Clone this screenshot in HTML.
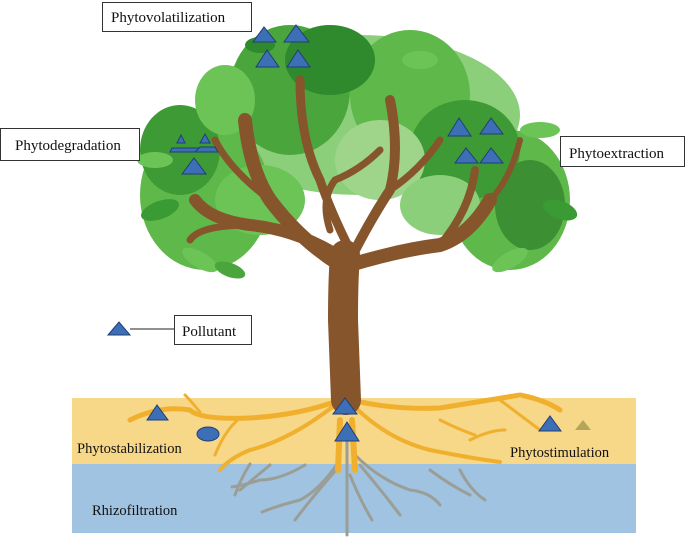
<!DOCTYPE html>
<html><head><meta charset="utf-8"><style>
html,body{margin:0;padding:0;background:#fff;width:685px;height:539px;overflow:hidden}
svg{display:block}
text{font-family:"Liberation Serif",serif;fill:#111}
</style></head><body>
<svg width="685" height="539" viewBox="0 0 685 539" xmlns="http://www.w3.org/2000/svg">
<rect x="72" y="398" width="564" height="66" fill="#f7d788"/>
<rect x="72" y="464" width="564" height="69" fill="#9fc3e0"/>
<g stroke="#9b9e96" stroke-width="3" fill="none" stroke-linecap="round">
<path d="M347 440 L347 535"/>
<path d="M340 460 Q320 490 300 500 Q280 505 262 512"/>
<path d="M336 470 Q310 500 295 520"/>
<path d="M350 475 Q360 500 372 520"/>
<path d="M355 455 Q380 480 410 490 Q430 492 440 505"/>
<path d="M360 465 Q385 495 400 515"/>
<path d="M305 465 Q280 480 260 480 Q245 485 232 487"/>
<path d="M270 465 Q258 475 240 490"/>
<path d="M250 464 Q240 480 235 495"/>
<path d="M430 470 Q450 485 470 495"/>
<path d="M460 470 Q470 490 485 500"/>
</g>
<g stroke="#f0b02e" stroke-width="5" fill="none" stroke-linecap="round">
<path d="M340 400 Q300 415 250 418 Q200 420 190 410 Q160 405 130 420"/>
<path d="M335 405 Q290 440 250 450 Q230 458 220 470" stroke-width="4"/>
<path d="M360 402 Q400 410 440 408 Q490 400 520 395 Q545 400 560 410"/>
<path d="M358 410 Q390 440 430 450 Q470 458 500 462" stroke-width="4"/>
<path d="M340 420 L338 470" stroke-width="6"/>
<path d="M352 420 L355 470" stroke-width="6"/>
<path d="M240 418 Q225 430 215 455" stroke-width="3"/>
<path d="M200 412 Q190 400 185 395" stroke-width="3"/>
<path d="M440 420 Q460 430 475 435" stroke-width="3"/>
<path d="M470 440 Q490 430 505 430" stroke-width="3"/>
<path d="M500 400 Q520 415 540 430" stroke-width="3"/>
</g>
<!-- canopy -->
<g>
<ellipse cx="360" cy="115" rx="160" ry="80" fill="#8ccf7a"/>
<ellipse cx="205" cy="195" rx="65" ry="75" fill="#5fb84a"/>
<ellipse cx="510" cy="200" rx="60" ry="70" fill="#5fb84a"/>
<ellipse cx="290" cy="90" rx="60" ry="65" fill="#4aa63c"/>
<ellipse cx="410" cy="95" rx="60" ry="65" fill="#5fb84a"/>
<ellipse cx="180" cy="150" rx="40" ry="45" fill="#3e9a35"/>
<ellipse cx="465" cy="150" rx="55" ry="50" fill="#3e9a35"/>
<ellipse cx="260" cy="200" rx="45" ry="35" fill="#6cc457"/>
<ellipse cx="530" cy="205" rx="35" ry="45" fill="#3d8f33"/>
<ellipse cx="330" cy="60" rx="45" ry="35" fill="#2e8a2c"/>
<ellipse cx="380" cy="160" rx="45" ry="40" fill="#9ed58b"/>
<ellipse cx="440" cy="205" rx="40" ry="30" fill="#8ccf7a"/>
<ellipse cx="225" cy="100" rx="30" ry="35" fill="#6cc457"/>
</g>
<g stroke="#86552c" fill="none" stroke-linecap="round">
<path d="M346 400 L343 320 Q343 280 345 255" stroke-width="30"/>
<path d="M340 265 Q300 240 270 200 Q250 170 245 120" stroke-width="14"/>
<path d="M350 265 Q400 250 440 245 Q470 235 490 200" stroke-width="14"/>
<path d="M345 260 Q300 230 250 225 Q210 220 195 200" stroke-width="12"/>
<path d="M350 260 Q370 220 390 190 Q400 150 390 100" stroke-width="10"/>
<path d="M350 250 Q330 210 320 180 Q300 140 300 80" stroke-width="9"/>
<path d="M330 230 Q320 200 335 180 Q360 170 380 150" stroke-width="7"/>
<path d="M440 245 Q470 210 475 170" stroke-width="8"/>
<path d="M250 225 Q200 225 190 240" stroke-width="7"/>
<path d="M270 200 Q230 170 215 140" stroke-width="7"/>
<path d="M390 190 Q420 170 440 140" stroke-width="7"/>
<path d="M490 200 Q510 180 520 140" stroke-width="6"/>
</g>
<g fill="#3a9a34">
<ellipse cx="160" cy="210" rx="20" ry="9" transform="rotate(-20 160 210)"/>
<ellipse cx="560" cy="210" rx="18" ry="9" transform="rotate(20 560 210)"/>
<ellipse cx="200" cy="260" rx="20" ry="8" transform="rotate(30 200 260)" fill="#6cc457"/>
<ellipse cx="510" cy="260" rx="20" ry="8" transform="rotate(-30 510 260)" fill="#6cc457"/>
<ellipse cx="155" cy="160" rx="18" ry="8" fill="#6cc457"/>
<ellipse cx="540" cy="130" rx="20" ry="8" fill="#6cc457"/>
<ellipse cx="260" cy="45" rx="15" ry="8" fill="#2e8a2c"/>
<ellipse cx="420" cy="60" rx="18" ry="9" fill="#6cc457"/>
<ellipse cx="230" cy="270" rx="16" ry="7" transform="rotate(20 230 270)" fill="#4aa63c"/>
</g>
<g fill="#3d6fb6" stroke="#1f3f75" stroke-width="1">
<polygon points="253,42 264,27 276,42"/>
<polygon points="284,42 296,25 309,42"/>
<polygon points="256,67 267,50 279,67"/>
<polygon points="287,67 298,50 310,67"/>
<polygon points="448,136 459,118 471,136"/>
<polygon points="480,134 491,118 503,134"/>
<polygon points="455,163 466,148 478,163"/>
<polygon points="480,163 491,148 503,163"/>
<polygon points="177,143 181,135 185,143"/>
<polygon points="200,143 205,134 210,143"/>
<polygon points="170,152 172,148 205,148 210,152"/>
<polygon points="195,152 200,147 215,147 218,152"/>
<polygon points="182,174 194,158 206,174"/>
<polygon points="108,335 119,322 130,335"/>
<polygon points="147,420 157,405 168,420"/>
<ellipse cx="208" cy="434" rx="11" ry="7"/>
<polygon points="333,414 345,398 357,414"/>
<polygon points="335,441 347,422 359,441"/>
<polygon points="539,431 550,416 561,431"/>
</g>
<polygon points="575,430 583,420 591,430" fill="#b3a55c"/>
<line x1="130" y1="329" x2="174" y2="329" stroke="#222" stroke-width="1"/>
<g fill="#fff" stroke="#333" stroke-width="1">
<rect x="102.5" y="2.5" width="149" height="29"/>
<rect x="0.5" y="128.5" width="139" height="32"/>
<rect x="560.5" y="136.5" width="124" height="30"/>
<rect x="174.5" y="315.5" width="77" height="29"/>
</g>
<g font-size="15">
<text x="111" y="22">Phytovolatilization</text>
<text x="15" y="150">Phytodegradation</text>
<text x="569" y="158">Phytoextraction</text>
<text x="182" y="336">Pollutant</text>
<text x="77" y="453" font-size="14.5">Phytostabilization</text>
<text x="510" y="457" font-size="14.5">Phytostimulation</text>
<text x="92" y="515" font-size="14.5">Rhizofiltration</text>
</g>
</svg>
</body></html>
